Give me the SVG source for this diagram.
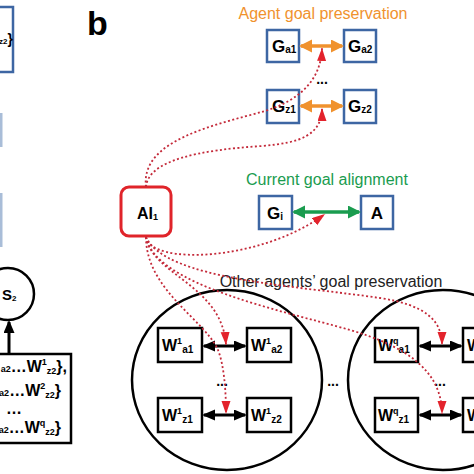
<svg xmlns="http://www.w3.org/2000/svg" width="474" height="474" viewBox="0 0 474 474">
<style>
text{font-family:"Liberation Sans",Arial,sans-serif}
.bb{fill:#fff;stroke:#3d66a3;stroke-width:2.5}
.wb{fill:#fff;stroke:#000;stroke-width:2.5}
.lb{font-weight:bold;font-size:17px;fill:#000}
.wl{font-weight:bold;font-size:16px;fill:#000}
.s{font-size:10px}
.dot{fill:none;stroke:#c42a3a;stroke-width:1.8;stroke-dasharray:2 2.4;marker-end:url(#hR)}
.cap{font-size:16px;text-anchor:middle}
</style>
<defs>
<marker id="hR" markerUnits="userSpaceOnUse" markerWidth="14" markerHeight="10" refX="13" refY="4.5" orient="auto"><path d="M0,0 L13,4.5 L0,9 Z" fill="#e3232c"/></marker>
<marker id="hO" markerUnits="userSpaceOnUse" markerWidth="14" markerHeight="14" refX="11" refY="6.5" orient="auto-start-reverse"><path d="M0,0 L13,6.5 L0,13 Z" fill="#f0922e"/></marker>
<marker id="hG" markerUnits="userSpaceOnUse" markerWidth="14" markerHeight="14" refX="11" refY="6.5" orient="auto-start-reverse"><path d="M0,0 L13,6.5 L0,13 Z" fill="#1a9c4f"/></marker>
<marker id="hK" markerUnits="userSpaceOnUse" markerWidth="14" markerHeight="12" refX="11" refY="5.5" orient="auto-start-reverse"><path d="M0,0 L13,5.5 L0,11 Z" fill="#000"/></marker>
</defs>
<rect width="474" height="474" fill="#fff"/>

<g id="panel-a">
<rect x="-10" y="7" width="23" height="65" class="bb" stroke-width="2"/>
<text x="13" y="44" text-anchor="end" font-size="14" font-weight="bold"><tspan font-size="8">z2</tspan>}</text>
<rect x="0" y="113" width="2.5" height="34" fill="#a9bdd8"/>
<rect x="0" y="193" width="2.5" height="54" fill="#a9bdd8"/>
<circle cx="8" cy="294" r="26" fill="#fff" stroke="#000" stroke-width="2.5"/>
<text x="2" y="300" font-size="15" font-weight="bold">S<tspan font-size="8" dy="1">2</tspan></text>
<line x1="9" y1="354" x2="9" y2="322" stroke="#000" stroke-width="3" marker-end="url(#hK)"/>
<rect x="-10" y="354" width="81" height="89" class="wb"/>
<g font-size="16" font-weight="bold" text-anchor="end">
<text x="67" y="372"><tspan font-size="9">a2</tspan>…W<tspan font-size="9" dy="-7">1</tspan><tspan font-size="9" dy="9">z2</tspan><tspan dy="-2">},</tspan></text>
<text x="61" y="396"><tspan font-size="9">a2</tspan>…W<tspan font-size="9" dy="-7">2</tspan><tspan font-size="9" dy="9">z2</tspan><tspan dy="-2">}</tspan></text>
<text x="22" y="414">…</text>
<text x="61" y="433"><tspan font-size="9">a2</tspan>…W<tspan font-size="9" dy="-7">q</tspan><tspan font-size="9" dy="9">z2</tspan><tspan dy="-2">}</tspan></text>
</g>
</g>

<text x="87" y="35" font-size="34" font-weight="bold">b</text>

<text class="cap" x="323" y="19" fill="#f0922e">Agent goal preservation</text>
<text class="cap" x="327" y="185" fill="#1a9c4f">Current goal alignment</text>
<text class="cap" x="331" y="287" fill="#222">Other agents’ goal preservation</text>

<g id="Ga1"><rect class="bb" x="267" y="30" width="32" height="32"/><text class="lb" x="272" y="52">G<tspan class="s" dy="1">a1</tspan></text></g>
<g id="Ga2"><rect class="bb" x="344" y="30" width="32" height="32"/><text class="lb" x="348" y="52">G<tspan class="s" dy="1">a2</tspan></text></g>
<g id="Gz1"><rect class="bb" x="267" y="90" width="32" height="33"/><text class="lb" x="272" y="112">G<tspan class="s" dy="1">z1</tspan></text></g>
<g id="Gz2"><rect class="bb" x="344" y="90" width="32" height="33"/><text class="lb" x="348" y="112">G<tspan class="s" dy="1">z2</tspan></text></g>
<text x="322" y="84" font-size="14" font-weight="bold" text-anchor="middle">...</text>

<g id="Gi"><rect class="bb" x="259" y="196" width="33" height="33"/><text class="lb" x="267" y="219">G<tspan class="s" dy="1">i</tspan></text></g>
<g id="A"><rect class="bb" x="361" y="196" width="32" height="33"/><text class="lb" x="377" y="219" text-anchor="middle">A</text></g>

<g id="AI1"><rect x="121" y="187" width="50" height="49" rx="8" fill="#fff" stroke="#e0242a" stroke-width="3"/><text x="137" y="219" font-size="16" font-weight="bold">AI<tspan font-size="9" dy="1">1</tspan></text></g>

<g id="group1">
<ellipse cx="227" cy="380" rx="95" ry="90" fill="none" stroke="#000" stroke-width="2.5"/>
<g id="W1a1"><rect class="wb" x="158" y="328" width="44" height="34"/><text class="wl" x="162" y="351">W<tspan font-size="9" dy="-7">1</tspan><tspan font-size="10" dy="9">a1</tspan></text></g>
<g id="W1a2"><rect class="wb" x="247" y="328" width="44" height="34"/><text class="wl" x="251" y="351">W<tspan font-size="9" dy="-7">1</tspan><tspan font-size="10" dy="9">a2</tspan></text></g>
<g id="W1z1"><rect class="wb" x="158" y="398" width="44" height="34"/><text class="wl" x="162" y="421">W<tspan font-size="9" dy="-7">1</tspan><tspan font-size="10" dy="9">z1</tspan></text></g>
<g id="W1z2"><rect class="wb" x="247" y="398" width="44" height="34"/><text class="wl" x="251" y="421">W<tspan font-size="9" dy="-7">1</tspan><tspan font-size="10" dy="9">z2</tspan></text></g>
<text x="222" y="386" font-size="14" font-weight="bold" text-anchor="middle">...</text>
</g>
<text x="333" y="386" font-size="14" font-weight="bold" text-anchor="middle">...</text>

<g id="groupq">
<ellipse cx="443" cy="380" rx="95" ry="90" fill="none" stroke="#000" stroke-width="2.5"/>
<g id="Wqa1"><rect class="wb" x="375" y="328" width="43" height="34"/><text class="wl" x="378" y="351">W<tspan font-size="9" dy="-7">q</tspan><tspan font-size="10" dy="9">a1</tspan></text></g>
<g id="Wqa2"><rect class="wb" x="463" y="328" width="44" height="34"/><text class="wl" x="467" y="351">W<tspan font-size="9" dy="-7">q</tspan><tspan font-size="10" dy="9">a2</tspan></text></g>
<g id="Wqz1"><rect class="wb" x="375" y="398" width="43" height="34"/><text class="wl" x="378" y="421">W<tspan font-size="9" dy="-7">q</tspan><tspan font-size="10" dy="9">z1</tspan></text></g>
<g id="Wqz2"><rect class="wb" x="463" y="398" width="44" height="34"/><text class="wl" x="467" y="421">W<tspan font-size="9" dy="-7">q</tspan><tspan font-size="10" dy="9">z2</tspan></text></g>
<text x="440" y="386" font-size="14" font-weight="bold" text-anchor="middle">...</text>
</g>

<g id="connectors">
<line x1="301" y1="46" x2="342" y2="46" stroke="#f0922e" stroke-width="3.5" marker-start="url(#hO)" marker-end="url(#hO)"/>
<line x1="301" y1="106" x2="342" y2="106" stroke="#f0922e" stroke-width="3.5" marker-start="url(#hO)" marker-end="url(#hO)"/>
<line x1="294" y1="212" x2="359" y2="212" stroke="#1a9c4f" stroke-width="3.5" marker-start="url(#hG)" marker-end="url(#hG)"/>
<line x1="204" y1="346" x2="245" y2="346" stroke="#000" stroke-width="3" marker-start="url(#hK)" marker-end="url(#hK)"/>
<line x1="204" y1="415" x2="245" y2="415" stroke="#000" stroke-width="3" marker-start="url(#hK)" marker-end="url(#hK)"/>
<line x1="420" y1="346" x2="461" y2="346" stroke="#000" stroke-width="3" marker-start="url(#hK)" marker-end="url(#hK)"/>
<line x1="420" y1="415" x2="461" y2="415" stroke="#000" stroke-width="3" marker-start="url(#hK)" marker-end="url(#hK)"/>
<path class="dot" d="M146,187 C140,140 215,125 265,111 C300,100 321,80 322,48"/>
<path class="dot" d="M146,187 C148,160 200,150 262,146 C300,143 322,135 322,108"/>
<path class="dot" d="M146,237 C150,265 260,262 325,214"/>
<path class="dot" d="M146,237 C152,275 222,285 226,345"/>
<path class="dot" d="M146,237 C146,290 205,320 218,350 C224,365 226,390 226,414"/>
<path class="dot" d="M146,237 C165,280 300,286 380,298 C425,305 442,320 442,345"/>
<path class="dot" d="M146,237 C155,285 280,310 350,330 C405,346 442,370 442,414"/>
</g>
</svg>
